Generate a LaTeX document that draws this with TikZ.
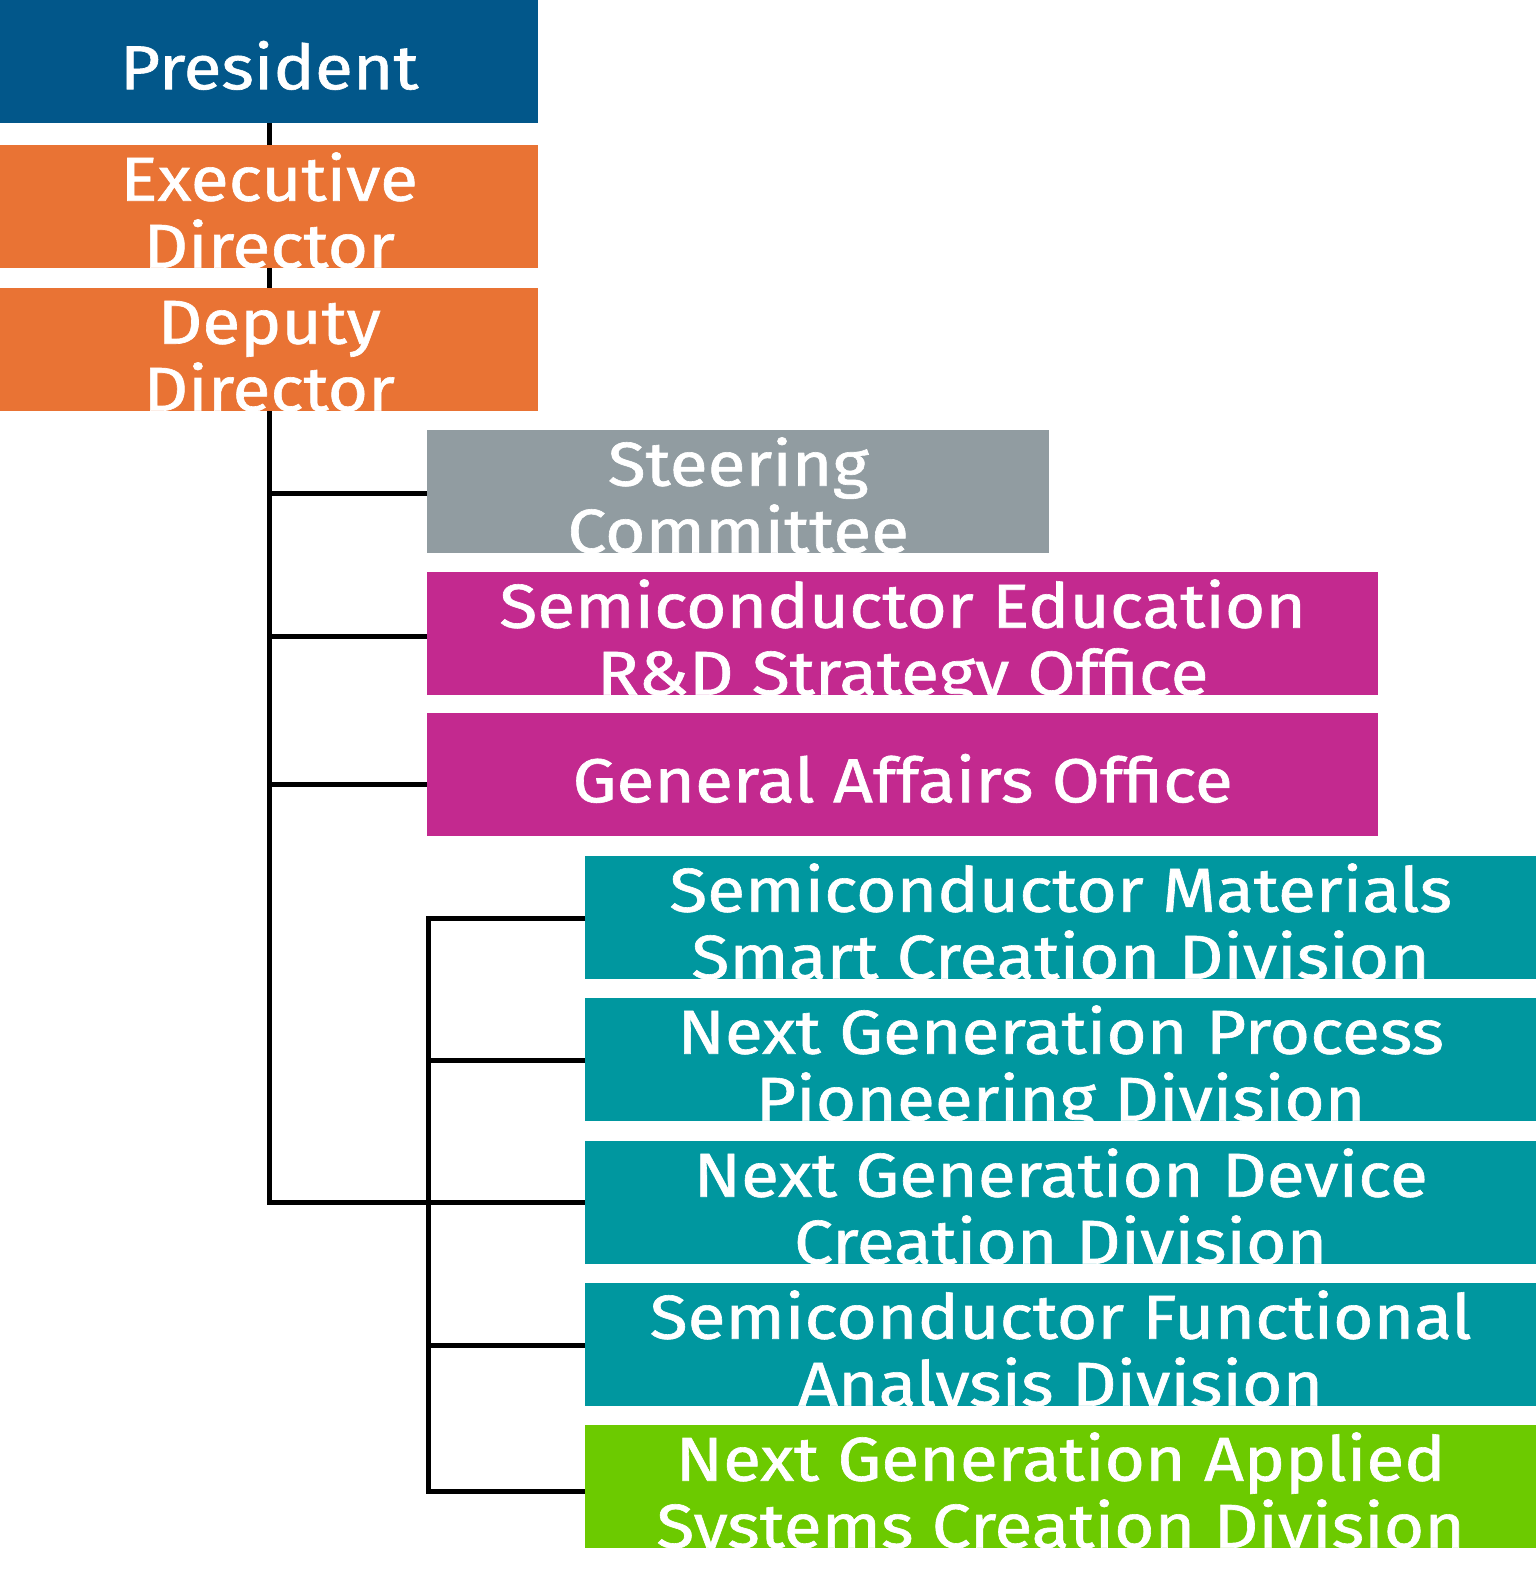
\documentclass[tikz,border=0pt]{standalone}
\usepackage{fontspec}
\setmainfont{Fira Sans}[FakeStretch=1.12, FakeBold=1]
\usepackage{tikz}
\definecolor{presblue}{RGB}{2,87,138}
\definecolor{dirorange}{RGB}{233,115,52}
\definecolor{steergray}{RGB}{145,156,161}
\definecolor{officemag}{RGB}{195,41,143}
\definecolor{divteal}{RGB}{0,151,159}
\definecolor{divgreen}{RGB}{108,202,0}

\begin{document}
\begin{tikzpicture}[x=1pt, y=-1pt,
		unit/.style={anchor=north west, inner sep=0pt, minimum height=123pt, text=white, align=center, text depth=0pt, font=\fontsize{62}{67}\selectfont},
		oneline/.style={text height=55pt},
		twoline/.style={text height=122pt},
		link/.style={line width=5pt, black}]
		\useasboundingbox (0, 0) rectangle (1536, 1587);
		% top of the chart
		\node[unit, oneline, fill=presblue, minimum width=538pt](pres) at (0, 0){President};
		\node[unit, twoline, fill=dirorange, minimum width=538pt](exec) at (0, 145){Executive\\Director};
		\node[unit, twoline, fill=dirorange, minimum width=538pt](dep) at (0, 288){Deputy\\Director};
		% offices
		\node[unit, twoline, fill=steergray, minimum width=622pt](steer) at (427, 430){Steering\\Committee};
		\node[unit, twoline, fill=officemag, minimum width=951pt](edu) at (427, 572){Semiconductor Education\\R\&D Strategy Office};
		\node[unit, oneline, fill=officemag, minimum width=951pt](gen) at (427, 713){General Affairs Office};
		% divisions
		\node[unit, twoline, fill=divteal, minimum width=951pt](mat) at (585, 856){Semiconductor Materials\\Smart Creation Division};
		\node[unit, twoline, fill=divteal, minimum width=951pt](proc) at (585, 998){Next Generation Process\\Pioneering Division};
		\node[unit, twoline, fill=divteal, minimum width=951pt](dev) at (585, 1141){Next Generation Device\\Creation Division};
		\node[unit, twoline, fill=divteal, minimum width=951pt](ana) at (585, 1283){Semiconductor Functional\\Analysis Division};
		\node[unit, twoline, fill=divgreen, minimum width=951pt](app) at (585, 1425){Next Generation Applied\\Systems Creation Division};
		\coordinate(hub) at (428, 1203);
		% connectors
		\draw[link](pres.south)--(exec.north);
		\draw[link](exec.south)--(dep.north);
		\draw[link](dep.south)|-(dev.west);
		\draw[link]([yshift=-2pt]steer.west)--([yshift=-2pt]steer.west-|dep.south);
		\draw[link]([yshift=-3pt]edu.west)--([yshift=-3pt]edu.west-|dep.south);
		\draw[link]([yshift=-10pt]gen.west)--([yshift=-10pt]gen.west-|dep.south);
		\draw[link]([yshift=-1pt]mat.west)-|(hub)|-([yshift=-5pt]app.west);
		\draw[link]([yshift=-1pt]proc.west)--([yshift=-1pt]proc.west-|hub);
		\draw[link]([yshift=-1pt]ana.west)--([yshift=-1pt]ana.west-|hub);
	\end{tikzpicture}
\end{document}
